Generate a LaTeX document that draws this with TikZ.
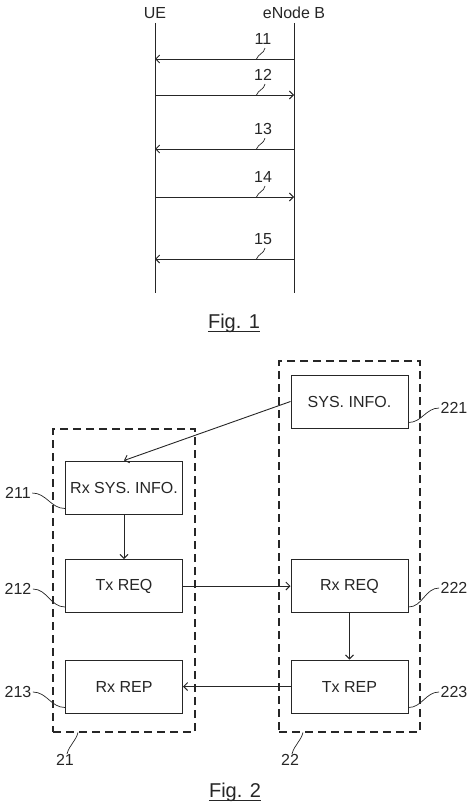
\documentclass[tikz,border=0pt]{standalone}
\usepackage{fontspec}
\setmainfont{Liberation Sans}
\usetikzlibrary{arrows.meta}

\begin{document}
\begin{tikzpicture}[x=1bp,y=-1bp]
        % styles
        \tikzstyle{every node}=[text=black!85, font=\fontsize{16bp}{19bp}\selectfont]
        \tikzstyle{blockbox}=[draw=black!85, line width=1bp, minimum width=117bp, minimum height=53bp, inner sep=0pt]
        \tikzstyle{groupbox}=[draw=black!85, line width=1.1bp, dash pattern=on 8bp off 5bp, inner sep=0pt]
        \tikzstyle{msg}=[->, >={Straight Barb[length=4bp,width=8bp]}, line width=0.9bp, black!85]
        \tikzstyle{lifeline}=[line width=1bp, black!85]
        \tikzstyle{lead}=[line width=0.7bp, black!85]
        \tikzstyle{figcap}=[inner sep=0pt, font=\fontsize{20bp}{24bp}\selectfont]

        \useasboundingbox (0,0) rectangle (474,810);

        % Fig. 1 -- lifelines
        \node (ue) at (155,13) {UE};
        \node (enb) at (294,13) {eNode B};
        \coordinate (uetop) at (155,23);
        \coordinate (uebot) at (155,293);
        \coordinate (enbtop) at (294,23);
        \coordinate (enbbot) at (294,293);
        \draw[lifeline] (uetop) -- (uebot);
        \draw[lifeline] (enbtop) -- (enbbot);

        % Fig. 1 -- messages
        \coordinate (ue11) at (155,59);  \coordinate (enb11) at (294,59);
        \coordinate (ue12) at (155,95);  \coordinate (enb12) at (294,95);
        \coordinate (ue13) at (155,149); \coordinate (enb13) at (294,149);
        \coordinate (ue14) at (155,197); \coordinate (enb14) at (294,197);
        \coordinate (ue15) at (155,259); \coordinate (enb15) at (294,259);
        \draw[msg] (enb11) -- coordinate[pos=0.27] (t11) (ue11);
        \draw[msg] (ue12) -- coordinate[pos=0.73] (t12) (enb12);
        \draw[msg] (enb13) -- coordinate[pos=0.27] (t13) (ue13);
        \draw[msg] (ue14) -- coordinate[pos=0.73] (t14) (enb14);
        \draw[msg] (enb15) -- coordinate[pos=0.27] (t15) (ue15);

        % Fig. 1 -- message labels
        \node (l11) at (263,39) {11};
        \node (l12) at (263,75) {12};
        \node (l13) at (263,129) {13};
        \node (l14) at (263,177) {14};
        \node (l15) at (263,239) {15};
        \draw[lead] (t11) to[out=70,in=-100] ([xshift=2bp]l11.south);
        \draw[lead] (t12) to[out=70,in=-100] ([xshift=2bp]l12.south);
        \draw[lead] (t13) to[out=70,in=-100] ([xshift=2bp]l13.south);
        \draw[lead] (t14) to[out=70,in=-100] ([xshift=2bp]l14.south);
        \draw[lead] (t15) to[out=70,in=-100] ([xshift=2bp]l15.south);

        \node[figcap] (fig1) at (234,323) {Fig. 1};
        \draw[line width=0.9bp, black!85] ([yshift=-3bp]fig1.base west) -- ([yshift=-3bp]fig1.base east);

        % Fig. 2 -- groups
        \node[groupbox, minimum width=142bp, minimum height=303bp] (box21) at (124,580.5) {};
        \node[groupbox, minimum width=141bp, minimum height=371bp] (box22) at (349.5,546.5) {};

        % Fig. 2 -- blocks
        \node[blockbox] (sysinfo) at (349.5,401.5) {SYS. INFO.};
        \node[blockbox] (rxsys) at (124,487.5) {Rx SYS. INFO.};
        \node[blockbox] (txreq) at (124,586) {Tx REQ};
        \node[blockbox] (rxreq) at (349.5,586) {Rx REQ};
        \node[blockbox] (rxrep) at (124,686.5) {Rx REP};
        \node[blockbox] (txrep) at (349.5,686.5) {Tx REP};

        % Fig. 2 -- arrows
        \draw[msg] (sysinfo.west) -- (rxsys.north);
        \draw[msg] (rxsys) -- (txreq);
        \draw[msg] (txreq) -- (rxreq);
        \draw[msg] (rxreq) -- (txrep);
        \draw[msg] (txrep) -- (rxrep);

        % Fig. 2 -- reference numerals
        \node (l211) at (18,493) {211};
        \node (l212) at (18,589) {212};
        \node (l213) at (18,692) {213};
        \node (l221) at (454,408) {221};
        \node (l222) at (454,588) {222};
        \node (l223) at (454,692) {223};
        \node (l21) at (65,760) {21};
        \node (l22) at (290,760) {22};
        \draw[lead] ([xshift=-2bp]l211.east) to[out=0,in=180] ([yshift=6bp]rxsys.south west);
        \draw[lead] ([xshift=-2bp]l212.east) to[out=0,in=180] ([yshift=6bp]txreq.south west);
        \draw[lead] ([xshift=-2bp]l213.east) to[out=0,in=180] ([yshift=6bp]rxrep.south west);
        \draw[lead] ([yshift=6bp]sysinfo.south east) to[out=0,in=180] ([xshift=2bp]l221.west);
        \draw[lead] ([yshift=6bp]rxreq.south east) to[out=0,in=180] ([xshift=2bp]l222.west);
        \draw[lead] ([yshift=6bp]txrep.south east) to[out=0,in=180] ([xshift=2bp]l223.west);
        \draw[lead] ([xshift=2bp,yshift=-3bp]l21.north) to[out=75,in=-105] ([xshift=-46bp]box21.south);
        \draw[lead] ([xshift=2bp,yshift=-3bp]l22.north) to[out=75,in=-105] ([xshift=-46.5bp]box22.south);

        \node[figcap] (fig2) at (235,792) {Fig. 2};
        \draw[line width=0.9bp, black!85] ([yshift=-3bp]fig2.base west) -- ([yshift=-3bp]fig2.base east);
\end{tikzpicture}
\end{document}
